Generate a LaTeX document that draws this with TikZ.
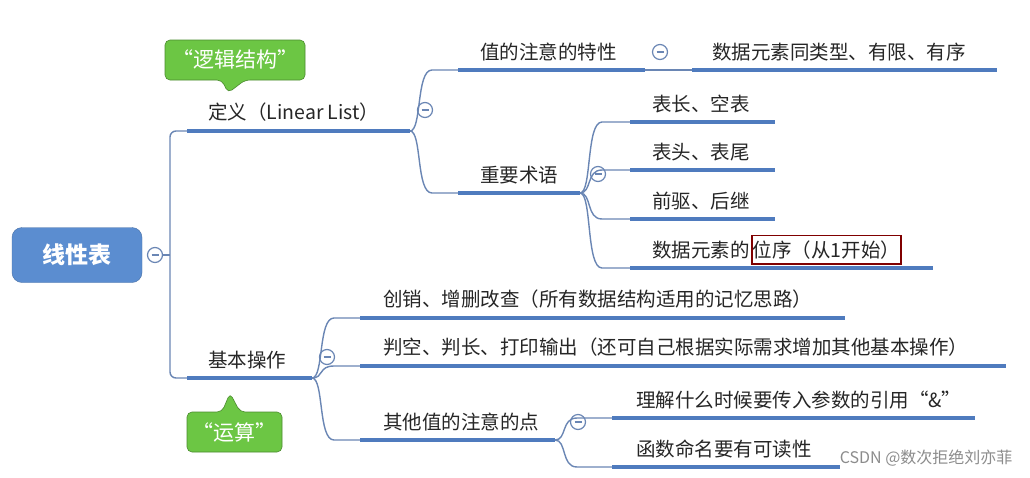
\documentclass[tikz,border=0pt]{standalone}
\usepackage{fontspec}
\setmainfont{Noto Sans CJK SC}
\usetikzlibrary{calc}
\definecolor{ul}{HTML}{4F7BBE}
\definecolor{cn}{HTML}{6A86B4}
\definecolor{gr}{HTML}{6CC644}
\definecolor{rootc}{HTML}{5B8DD0}
\tikzset{
 uline/.style={line width=4pt,ul},
 conn/.style={line width=1.4pt,cn},
 lbl/.style={anchor=south west,inner sep=0pt,font=\fontsize{19.5}{20}\selectfont,text=black!85},
 tog/.style={circle,draw=cn,line width=1.2pt,fill=white,minimum size=15pt,inner sep=0pt,
   path picture={\draw[cn,line width=1.2pt] ($(path picture bounding box.center)+(-3.5pt,0)$)--++(7pt,0);}},
 callout/.style={fill=gr,draw=gr!70!black,line width=0.6pt,rounded corners=5pt},
}
\newcommand{\crv}[2]{\draw[conn] (#1) .. controls ($(#1)+(12,0)$) and ($(#1|-#2)+(6,0)$) .. ($(#1|-#2)+(22,0)$) -- (#2);}
\begin{document}
\begin{tikzpicture}[x=1pt,y=-1pt]
\useasboundingbox (0,0) rectangle (1030,477);
\fill[white] (0,0) rectangle (1030,477);
% root
\node[fill=rootc,draw=rootc!80!black,rounded corners=10pt,minimum width=130pt,minimum height=55pt,text=white,font=\fontsize{23}{23}\selectfont\bfseries] (root) at (77,255) {线性表};
\node[tog] (t0) at (155,255) {};
% trunk
\coordinate (ta) at (187,131); \coordinate (tb) at (410,131);
\coordinate (ba) at (187,378); \coordinate (bb) at (312,378);
\draw[conn,rounded corners=6pt] (ta) -- (170,131) -- (170,378) -- (ba);
\draw[conn] (t0) -- (170,255);
\draw[uline] (ta) -- (tb);
\draw[uline] (ba) -- (bb);
\node[lbl] (ldef) at (208,122) {定义（Linear List）};
\node[lbl] (lop) at (208,369) {基本操作};
\node[tog] (t1) at (425,110) {};
\node[tog] (t2) at (327,357) {};
% def children
\coordinate (p1) at (410,131);
\coordinate (a1) at (458,70); \coordinate (a1e) at (645,70);
\coordinate (a2) at (458,193); \coordinate (a2e) at (580,193);
\crv{p1}{a1} \crv{p1}{a2}
\draw[uline] (a1) -- (a1e); \draw[uline] (a2) -- (a2e);
\node[lbl] at (480,61) {值的注意的特性};
\node[lbl] at (480,184) {重要术语};
\node[tog] (t3) at (660,52) {};
\coordinate (b1) at (692,70); \coordinate (b1e) at (997,70);
\draw[conn] (a1e) -- (b1); \draw[uline] (b1) -- (b1e);
\node[lbl] at (712,61) {数据元素同类型、有限、有序};
\node[tog] (t4) at (598,174) {};
\coordinate (p2) at (580,193);
\foreach \y/\e/\t [count=\i] in {122/775/{表长、空表},170/775/{表头、表尾},219/775/{前驱、后继},268/933/{数据元素的}}{
  \coordinate (c\i) at (630,\y); \coordinate (c\i e) at (\e,\y);
  \crv{p2}{c\i}
  \draw[uline] (c\i) -- (c\i e);
  \node[lbl] (lc\i) at (652,\y-9) {\t};
}
\node[lbl,anchor=base west,draw=red!50!black,line width=1.6pt,inner xsep=1pt,inner ysep=5pt] (rb) at ($(lc4.base east)+(1,0)$) {位序（从1开始）};
% op children
\coordinate (p3) at (312,378);
\coordinate (d1) at (360,318); \coordinate (d1e) at (845,318);
\coordinate (d2) at (360,366); \coordinate (d2e) at (1006,366);
\coordinate (d3) at (360,440); \coordinate (d3e) at (555,440);
\crv{p3}{d1} \crv{p3}{d2} \crv{p3}{d3}
\draw[uline] (d1) -- (d1e); \draw[uline] (d2) -- (d2e); \draw[uline] (d3) -- (d3e);
\node[lbl] at (383,309) {创销、增删改查（所有数据结构适用的记忆思路）};
\node[lbl] at (383,357) {判空、判长、打印输出（还可自己根据实际需求增加其他基本操作）};
\node[lbl] at (383,431) {其他值的注意的点};
\node[tog] (t5) at (578,422) {};
\coordinate (p4) at (555,440);
\coordinate (e1) at (612,418); \coordinate (e1e) at (975,418);
\coordinate (e2) at (612,467); \coordinate (e2e) at (840,467);
\crv{p4}{e1} \crv{p4}{e2}
\draw[uline] (e1) -- (e1e); \draw[uline] (e2) -- (e2e);
\node[lbl] at (636,409) {理解什么时候要传入参数的引用“\&”};
\node[lbl] at (636,458) {函数命名要有可读性};
% callouts
\draw[callout] (165,40) -- (305,40) -- (305,80) -- (245,80) -- (228,93) -- (222,80) -- (165,80) -- cycle;
\node[text=white,font=\fontsize{21}{21}\selectfont] (cl1) at (235,59) {“逻辑结构”};
\draw[callout] (187,412) -- (222,412) -- (230,393) -- (240,412) -- (282,412) -- (282,452) -- (187,452) -- cycle;
\node[text=white,font=\fontsize{21}{21}\selectfont] (cl2) at (234,432) {“运算”};
\node[anchor=east,text=black!45,font=\fontsize{16}{16}\selectfont] (wm) at (1016,458) {CSDN @数次拒绝刘亦菲};
\end{tikzpicture}
\end{document}
